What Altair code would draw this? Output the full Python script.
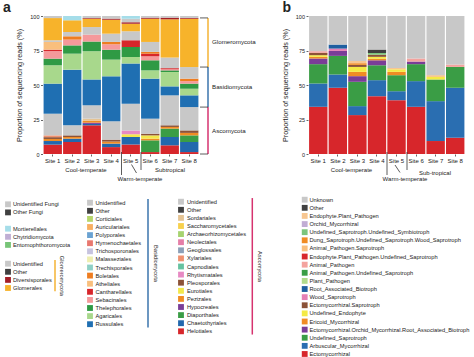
import altair as alt
import pandas as pd

FONT = "Liberation Sans"
TXT = "#222222"

sites = ["Site 1", "Site 2", "Site 3", "Site 4", "Site 5", "Site 6", "Site 7", "Site 8"]

# ---------------- panel a: taxa, stacking order bottom -> top ----------------
asco = ["Helotiales", "Chaetothyriales", "Diaporthales", "Hypocreales", "Pezizales",
        "Eurotiales", "Pleosporales", "Rhytismatales", "Capnodiales", "Xylariales",
        "Geoglossales", "Neolectales", "Archaeorhizomycetales", "Saccharomycetales",
        "Sordariales", "Other", "Unidentified"]
asco_colors = ["#d7262b", "#2268ad", "#3a9d45", "#7a3d97", "#f08c24",
               "#f2e84b", "#8c5237", "#e78ac3", "#66c2a0", "#f0916f",
               "#8da0b8", "#e57fa8", "#a6d36f", "#f7d04c",
               "#e5c494", "#404040", "#c8c8c8"]

basidio = ["Russulales", "Agaricales", "Thelephorales", "Sebacinales", "Cantharellales",
           "Atheliales", "Boletales", "Trechisporales", "Malasseziales", "Trichosporonales",
           "Hymenochaetales", "Polyporales", "Auriculariales", "Corticiales", "Other",
           "Unidentified"]
basidio_colors = ["#1f6fb2", "#a8d88c", "#2f9a44", "#f5999b", "#d7262b",
                  "#f9bf7d", "#ee7d21", "#8fd0c6", "#eeeeb0", "#c7c3df",
                  "#e8786f", "#6aa2d2", "#f8ae60", "#b6d66b", "#404040",
                  "#c8c8c8"]

glomero = ["Glomerales", "Diversisporales", "Other", "Unidentified"]
glomero_colors = ["#f7b32b", "#a41e27", "#404040", "#c8c8c8"]

early = ["Entomophthoromycota", "Chytridiomycota", "Mortierellales"]
early_colors = ["#77c477", "#bfaed4", "#a5dde9"]

general = ["Other Fungi", "Unidentified Fungi"]
general_colors = ["#404040", "#c8c8c8"]

# values (% of reads) per site
site1_a = {"A:Helotiales": 6.8, "A:Chaetothyriales": 2.6, "A:Pezizales": 1.5, "A:Pleosporales": 1.3,
           "A:Xylariales": 1.3, "A:Unidentified": 15.7, "B:Russulales": 21.8, "B:Agaricales": 13.3,
           "B:Thelephorales": 4.8, "B:Sebacinales": 5.5, "B:Cantharellales": 1.0, "B:Atheliales": 5.6,
           "B:Unidentified": 1.2, "G:Glomerales": 16.1, "F:Unidentified Fungi": 1.5}
site2_a = {"A:Helotiales": 8.7, "A:Chaetothyriales": 2.4, "A:Pezizales": 1.2, "A:Pleosporales": 1.2,
           "A:Unidentified": 7.3, "B:Russulales": 40.3, "B:Agaricales": 11.6, "B:Thelephorales": 6.0,
           "B:Sebacinales": 4.2, "B:Boletales": 2.4, "B:Unidentified": 3.1, "G:Glomerales": 8.5,
           "E:Mortierellales": 3.1}
site3_a = {"A:Helotiales": 20.8, "A:Chaetothyriales": 1.0, "A:Hypocreales": 0.9, "A:Pezizales": 1.5,
           "A:Sordariales": 1.4, "A:Unidentified": 9.7, "B:Russulales": 18.7, "B:Agaricales": 20.5,
           "B:Thelephorales": 7.0, "B:Sebacinales": 5.0, "B:Unidentified": 5.5, "G:Glomerales": 6.0,
           "G:Diversisporales": 0.5, "F:Unidentified Fungi": 1.5}
site4_a = {"A:Helotiales": 5.0, "A:Chaetothyriales": 2.5, "A:Pezizales": 1.5, "A:Pleosporales": 1.4,
           "A:Unidentified": 13.3, "B:Russulales": 32.6, "B:Agaricales": 12.1, "B:Thelephorales": 7.2,
           "B:Sebacinales": 3.9, "B:Boletales": 1.7, "B:Unidentified": 6.0, "G:Glomerales": 10.1,
           "G:Diversisporales": 0.8, "F:Unidentified Fungi": 1.9}
site5_a = {"A:Helotiales": 6.8, "A:Chaetothyriales": 5.5, "A:Eurotiales": 2.0, "A:Rhytismatales": 2.8,
           "A:Unidentified": 19.4, "B:Russulales": 29.0, "B:Agaricales": 4.8, "B:Thelephorales": 7.2,
           "B:Cantharellales": 4.9, "B:Unidentified": 6.6, "G:Glomerales": 5.4,
           "G:Diversisporales": 1.0, "G:Unidentified": 2.6, "E:Mortierellales": 2.0}
site6_a = {"A:Helotiales": 1.4, "A:Diaporthales": 8.5, "A:Pezizales": 1.2, "A:Eurotiales": 2.4,
           "A:Pleosporales": 1.2, "A:Unidentified": 10.9, "B:Russulales": 29.0, "B:Agaricales": 6.0,
           "B:Thelephorales": 7.3, "B:Sebacinales": 2.9, "B:Cantharellales": 1.9, "B:Boletales": 1.3,
           "B:Unidentified": 7.2, "G:Glomerales": 16.8, "G:Diversisporales": 0.8,
           "F:Unidentified Fungi": 1.2}
site7_a = {"A:Helotiales": 6.3, "A:Chaetothyriales": 6.0, "A:Diaporthales": 6.1, "A:Pezizales": 1.2,
           "A:Pleosporales": 1.2, "A:Unidentified": 21.7, "B:Russulales": 6.5, "B:Agaricales": 10.4,
           "B:Thelephorales": 1.2, "B:Sebacinales": 0.8, "B:Cantharellales": 0.8, "B:Unidentified": 7.7,
           "G:Glomerales": 27.7, "G:Diversisporales": 1.2, "F:Unidentified Fungi": 1.2}
site8_a = {"A:Helotiales": 1.4, "A:Chaetothyriales": 7.3, "A:Diaporthales": 4.8, "A:Pezizales": 1.8,
           "A:Pleosporales": 1.8, "A:Unidentified": 16.9, "B:Russulales": 8.5, "B:Agaricales": 4.8,
           "B:Thelephorales": 3.7, "B:Sebacinales": 1.8, "B:Boletales": 1.8, "B:Unidentified": 8.4,
           "G:Glomerales": 35.0, "G:Diversisporales": 0.6, "F:Unidentified Fungi": 1.4}
sites_a = [site1_a, site2_a, site3_a, site4_a, site5_a, site6_a, site7_a, site8_a]

# ---------------- panel b: guilds, stacking order bottom -> top ----------------
guilds = ["Ectomycorrhizal", "Arbuscular_Mycorrhizal", "Undefined_Saprotroph",
          "Ectomycorrhizal.Orchid_Mycorrhizal.Root_Associated_Biotroph", "Ericoid_Mycorrhizal",
          "Undefined_Endophyte", "Ectomycorrhizal.Saprotroph", "Wood_Saprotroph",
          "Root_Associated_Biotroph", "Plant_Pathogen", "Animal_Pathogen.Undefined_Saprotroph",
          "Animal_Pathogen", "Endophyte.Plant_Pathogen.Undefined_Saprotroph",
          "Animal_Pathogen.Saprotroph", "Dung_Saprotroph.Undefined_Saprotroph.Wood_Saprotroph",
          "Undefined_Saprotroph.Undefined_Symbiotroph", "Orchid_Mycorrhizal",
          "Endophyte.Plant_Pathogen", "Other", "Unknown"]
guild_colors = ["#d7262b", "#2a6eb1", "#3a9d45", "#7a3d97", "#f08c24",
                "#f4ea44", "#8c5237", "#e57fb5", "#1f5fa0", "#b2db8c",
                "#3a9d45", "#f4a39e", "#d7262b", "#f9bf7d", "#f08c24",
                "#7cc57c", "#c1add4", "#f7c691", "#404040", "#c8c8c8"]

site1_b = {"Ectomycorrhizal": 34.2, "Arbuscular_Mycorrhizal": 16.9, "Undefined_Saprotroph": 14.0,
           "Ectomycorrhizal.Orchid_Mycorrhizal.Root_Associated_Biotroph": 4.1,
           "Ericoid_Mycorrhizal": 1.2, "Undefined_Endophyte": 1.2, "Ectomycorrhizal.Saprotroph": 1.7,
           "Animal_Pathogen": 1.2, "Unknown": 25.5}
site2_b = {"Ectomycorrhizal": 48.0, "Arbuscular_Mycorrhizal": 9.6, "Undefined_Saprotroph": 13.5,
           "Ectomycorrhizal.Orchid_Mycorrhizal.Root_Associated_Biotroph": 3.6,
           "Wood_Saprotroph": 1.7, "Root_Associated_Biotroph": 2.9, "Unknown": 20.7}
site3_b = {"Ectomycorrhizal": 28.2, "Arbuscular_Mycorrhizal": 6.5, "Undefined_Saprotroph": 17.6,
           "Ectomycorrhizal.Orchid_Mycorrhizal.Root_Associated_Biotroph": 4.1,
           "Ericoid_Mycorrhizal": 3.1, "Undefined_Endophyte": 3.6, "Ectomycorrhizal.Saprotroph": 1.5,
           "Dung_Saprotroph.Undefined_Saprotroph.Wood_Saprotroph": 1.2,
           "Endophyte.Plant_Pathogen": 1.6, "Unknown": 32.6}
site4_b = {"Ectomycorrhizal": 41.9, "Arbuscular_Mycorrhizal": 11.6, "Undefined_Saprotroph": 10.8,
           "Ectomycorrhizal.Orchid_Mycorrhizal.Root_Associated_Biotroph": 3.6,
           "Ericoid_Mycorrhizal": 1.2, "Undefined_Endophyte": 1.3, "Ectomycorrhizal.Saprotroph": 1.6,
           "Undefined_Saprotroph.Undefined_Symbiotroph": 1.2, "Other": 2.5, "Unknown": 24.3}
site5_b = {"Ectomycorrhizal": 39.0, "Arbuscular_Mycorrhizal": 6.5, "Undefined_Saprotroph": 11.6,
           "Ericoid_Mycorrhizal": 2.4, "Undefined_Endophyte": 1.9, "Endophyte.Plant_Pathogen": 1.0,
           "Unknown": 37.6}
site6_b = {"Ectomycorrhizal": 34.2, "Arbuscular_Mycorrhizal": 18.6, "Undefined_Saprotroph": 12.3,
           "Ectomycorrhizal.Orchid_Mycorrhizal.Root_Associated_Biotroph": 1.9,
           "Animal_Pathogen": 2.2, "Unknown": 30.8}
site7_b = {"Ectomycorrhizal": 9.4, "Arbuscular_Mycorrhizal": 28.9, "Undefined_Saprotroph": 15.7,
           "Undefined_Endophyte": 1.9, "Animal_Pathogen.Saprotroph": 1.2, "Unknown": 42.9}
site8_b = {"Ectomycorrhizal": 11.8, "Arbuscular_Mycorrhizal": 36.2, "Undefined_Saprotroph": 15.1,
           "Animal_Pathogen": 1.7, "Unknown": 35.2}
sites_b = [site1_b, site2_b, site3_b, site4_b, site5_b, site6_b, site7_b, site8_b]

zones_a = ["Cool-temperate", "Warm-temperate", "Subtropical"]
zones_b = ["Cool-temperate", "Warm-temperate", "Sub-tropical"]
phyla = ["Ascomycota", "Basidiomycota", "Glomeromycota"]
phyla_colors = ["#d6336f", "#3b74ad", "#f5b335"]
y_title = "Proportion of sequencing reads (%)"

# ---------------- helpers ----------------
keys_a = (["A:" + t for t in asco] + ["B:" + t for t in basidio] + ["G:" + t for t in glomero]
          + ["E:" + t for t in early] + ["F:" + t for t in general])
colors_a = asco_colors + basidio_colors + glomero_colors + early_colors + general_colors

Y_SCALE = dict(domain=[0, 100], range=[154, 16], nice=False)


def stacked(site_dicts, keys, colors, x_range, y_offset):
    rows = []
    for s, d in zip(sites, site_dicts):
        for k, v in d.items():
            rows.append({"site": s, "key": k, "value": v, "order": keys.index(k)})
    df = pd.DataFrame(rows)
    return alt.Chart(df).mark_bar().encode(
        x=alt.X("site:N", sort=sites,
                scale=alt.Scale(domain=sites, range=x_range, paddingInner=0.06, paddingOuter=0.03),
                axis=alt.Axis(title=None, orient="bottom", offset=-203, labelAngle=0,
                              labelFontSize=6, labelFont=FONT, labelColor=TXT, tickSize=2,
                              tickColor="#666666", domain=False, labelPadding=1.5)),
        y=alt.Y("value:Q", stack="zero", scale=alt.Scale(**Y_SCALE),
                axis=alt.Axis(title=y_title, orient="left", offset=y_offset,
                              values=[0, 25, 50, 75, 100], labelFontSize=5.5, labelFont=FONT,
                              labelColor=TXT, tickSize=2, tickColor="#666666", domain=False,
                              grid=False, labelPadding=1.5, titleFont=FONT, titleFontSize=7.2,
                              titleFontWeight="normal", titleColor=TXT, titlePadding=6)),
        color=alt.Color("key:N", scale=alt.Scale(domain=keys, range=colors), legend=None),
        order=alt.Order("order:Q", sort="ascending"),
    )


def texts(labels, xs, ys, size=6, align="center", angle=0, weight="normal", baseline="middle"):
    df = pd.DataFrame({"label": labels, "px": xs, "py": ys})
    return alt.Chart(df).mark_text(fontSize=size, font=FONT, color=TXT, align=align,
                                   baseline=baseline, angle=angle, fontWeight=weight).encode(
        x=alt.X("px:Q", scale=None), y=alt.Y("py:Q", scale=None), text="label:N")


def rules(xs, ys, x2s, y2s, color="#333333", width=0.8):
    df = pd.DataFrame({"px": xs, "py": ys, "px2": x2s, "py2": y2s})
    return alt.Chart(df).mark_rule(color=color, strokeWidth=width).encode(
        x=alt.X("px:Q", scale=None), y=alt.Y("py:Q", scale=None),
        x2="px2:Q", y2="py2:Q")


def legend_block(labels, colors, y0, sw_x, tx_x, pitch=8.1, bar=None):
    n = len(labels)
    df = pd.DataFrame({"label": labels, "row": list(range(n))})
    ysc = alt.Scale(domain=[0, n - 1], range=[y0, y0 + pitch * (n - 1)])
    out = [
        alt.Chart(df).mark_square(size=34, opacity=1, strokeWidth=0).encode(
            x=alt.value(sw_x), y=alt.Y("row:Q", scale=ysc, axis=None),
            color=alt.Color("label:N", scale=alt.Scale(domain=labels, range=colors), legend=None)),
        alt.Chart(df).mark_text(align="left", baseline="middle", fontSize=5.7, font=FONT,
                                color=TXT).encode(
            x=alt.value(tx_x), y=alt.Y("row:Q", scale=ysc, axis=None), text="label:N"),
    ]
    if bar is not None:
        name, color, bx, lx = bar
        bdf = pd.DataFrame({"name": [name], "r0": [-0.45], "r1": [n - 0.6], "mid": [(n - 1) / 2]})
        out.append(alt.Chart(bdf).mark_rule(color=color, strokeWidth=1.5).encode(
            x=alt.value(bx), y=alt.Y("r0:Q", scale=ysc, axis=None), y2="r1:Q"))
        out.append(alt.Chart(bdf).mark_text(angle=90, align="center", baseline="middle",
                                            fontSize=5.7, font=FONT, color=TXT).encode(
            x=alt.value(lx), y=alt.Y("mid:Q", scale=ysc, axis=None), text="name:N"))
    return out


# ---------------- panels ----------------
bars_a = stacked(sites_a, keys_a, colors_a, [43, 199], -42.5)
bars_b = stacked(sites_b, guilds, guild_colors, [308.5, 465], -308)

# phylum brackets next to site 8 of panel a
cum = {}
run = 0.0
for pre, name in zip(["A:", "B:", "G:"], phyla):
    start = run
    run += sum(v for k, v in site8_a.items() if k.startswith(pre))
    cum[name] = (start, run)
brk = pd.DataFrame({"name": phyla, "y0": [cum[p][0] for p in phyla],
                    "y1": [cum[p][1] for p in phyla]})
brk["mid"] = (brk["y0"] + brk["y1"]) / 2
ends = pd.DataFrame({"yb": [0.0] + [cum[p][1] for p in phyla]})

brk_lines = alt.Chart(brk).mark_rule(strokeWidth=1.5).encode(
    x=alt.value(208), y=alt.Y("y0:Q", scale=alt.Scale(**Y_SCALE), axis=None), y2="y1:Q",
    color=alt.Color("name:N", scale=alt.Scale(domain=phyla, range=phyla_colors), legend=None))
brk_ends = alt.Chart(ends).mark_rule(color="#333333", strokeWidth=0.8).encode(
    x=alt.value(200), x2=alt.value(208),
    y=alt.Y("yb:Q", scale=alt.Scale(**Y_SCALE), axis=None))
brk_text = alt.Chart(brk).mark_text(align="left", baseline="middle", fontSize=6.2, font=FONT,
                                    color=TXT).encode(
    x=alt.value(212), y=alt.Y("mid:Q", scale=alt.Scale(**Y_SCALE), axis=None), text="name:N")

# climate-zone annotations
zone_a_text = texts(zones_a, [86, 140, 170], [169.5, 178.5, 170])
zone_b_text = texts(zones_b, [351.5, 405, 435], [170, 179, 173])
zone_a_rules = rules([121.5, 141, 131.5], [152, 152, 164.5], [121.5, 141, 136.5], [175, 170, 173])
zone_b_rules = rules([387, 407, 395], [152, 152, 165], [387, 407, 400], [175, 170, 172.5])

letters = texts(["a", "b"], [3, 282.5], [12, 12], size=14, align="left", weight="bold",
                baseline="alphabetic")

# legends
legends = []
legends += legend_block(general[::-1], general_colors[::-1], 204.3, 8, 13)
legends += legend_block(early[::-1], early_colors[::-1], 228.7, 8, 13)
legends += legend_block(glomero[::-1], glomero_colors[::-1], 263.7, 8, 13,
                        bar=("Glomeromycota", phyla_colors[2], 55, 61.5))
legends += legend_block(basidio[::-1], basidio_colors[::-1], 202.7, 90, 95.5,
                        bar=("Basidiomycota", phyla_colors[1], 148, 156))
legends += legend_block(asco[::-1], asco_colors[::-1], 201.7, 181, 187,
                        bar=("Ascomycota", phyla_colors[0], 252.3, 259.5))
legends += legend_block(guilds[::-1], guild_colors[::-1], 199.7, 304.7, 309.5, pitch=8.12)

chart = alt.layer(
    bars_a, bars_b, brk_lines, brk_ends, brk_text,
    zone_a_text, zone_b_text, zone_a_rules, zone_b_rules, letters,
    *legends
).resolve_scale(
    x="independent", y="independent", color="independent"
).resolve_axis(
    x="independent", y="independent"
).properties(
    width=474, height=357, autosize="none", padding=0, background="white"
).configure_view(stroke=None)

chart.save("out.html", embed_options={"renderer": "svg", "actions": False})
